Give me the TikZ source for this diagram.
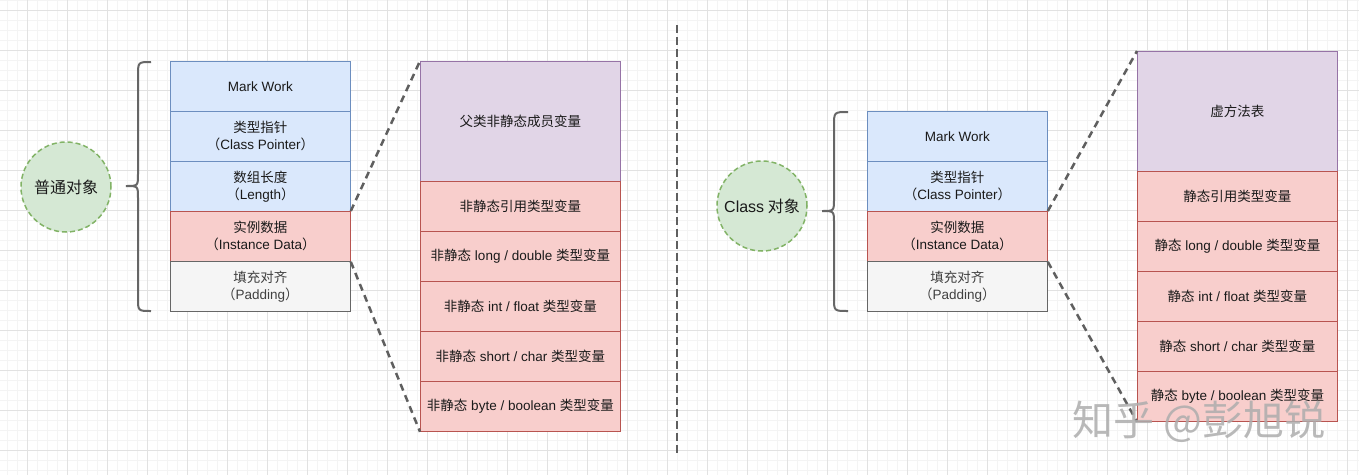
\documentclass[tikz,border=0pt]{standalone}
\usepackage{fontspec}
\setmainfont{Noto Sans CJK SC}
\newfontfamily\lat{Liberation Sans}
\definecolor{blueF}{HTML}{DAE8FC}\definecolor{blueD}{HTML}{6C8EBF}
\definecolor{redF}{HTML}{F8CECC}\definecolor{redD}{HTML}{B85450}
\definecolor{grayF}{HTML}{F5F5F5}\definecolor{grayD}{HTML}{666666}
\definecolor{purpF}{HTML}{E1D5E7}\definecolor{purpD}{HTML}{9673A6}
\definecolor{greenF}{HTML}{D5E8D4}\definecolor{greenD}{HTML}{82B366}
\definecolor{txt}{HTML}{1A1A1A}
\definecolor{gridmin}{HTML}{F4F4F4}\definecolor{gridmaj}{HTML}{E2E2E2}
\definecolor{connC}{HTML}{5F5F5F}
\begin{document}
\begin{tikzpicture}[x=1pt,y=-1pt,
  cell/.style={draw, rectangle, minimum width=180pt, minimum height=50pt, inner sep=0pt,
    anchor=north west, align=center, text=txt, font=\fontsize{13.5}{17}\selectfont, line width=0.8pt},
  wide/.style={cell, minimum width=200pt},
  bluecell/.style={fill=blueF, draw=blueD},
  redcell/.style={fill=redF, draw=redD},
  graycell/.style={fill=grayF, draw=grayD, text=black!75},
  purpcell/.style={fill=purpF, draw=purpD, minimum height=120pt},
  circ/.style={circle, draw=greenD, fill=greenF, dashed, dash pattern=on 5pt off 3pt, line width=1.5pt,
    minimum size=90pt, inner sep=0pt, text=txt, font=\fontsize{16}{19}\selectfont},
  conn/.style={draw=connC, line width=2.5pt, dash pattern=on 7pt off 5pt},
  bracestyle/.style={draw=grayD, line width=2pt},
  divider/.style={draw=connC, line width=2.5pt, dash pattern=on 8pt off 4pt}]
\useasboundingbox (0,0) rectangle (1359,475);
\fill[white] (0,0) rectangle (1359,475);
% grid
\foreach \i in {0,...,135} {\draw[gridmin, line width=0.6pt] (7+10*\i,0) -- (7+10*\i,475);}
\foreach \j in {0,...,47} {\draw[gridmin, line width=0.6pt] (0,10*\j) -- (1359,10*\j);}
\foreach \i in {0,...,33} {\draw[gridmaj, line width=0.8pt] (27+40*\i,0) -- (27+40*\i,475);}
\foreach \j in {0,...,11} {\draw[gridmaj, line width=0.8pt] (0,10+40*\j) -- (1359,10+40*\j);}

% ---------- left ----------
\node[circ] (lobj) at (66,187) {普通对象};
\draw[bracestyle] (151,62) .. controls (138,62) .. (138,76) -- (138,174)
   .. controls (138,186) .. (126,186) .. controls (138,186) .. (138,198)
   -- (138,298) .. controls (138,311) .. (151,311);

\node[cell,bluecell] (lmw) at (170,61) {{\lat Mark Work}};
\node[cell,bluecell] (lcp) at (170,111) {类型指针\\（{\lat Class Pointer}）};
\node[cell,bluecell] (llen) at (170,161) {数组长度\\（{\lat Length}）};
\node[cell,redcell] (lid) at (170,211) {实例数据\\（{\lat Instance Data}）};
\node[cell,graycell] (lpad) at (170,261) {填充对齐\\（{\lat Padding}）};

\node[wide,purpcell] (lp) at (420,61) {父类非静态成员变量};
\node[wide,redcell] (lr1) at (420,181) {非静态引用类型变量};
\node[wide,redcell] (lr2) at (420,231) {非静态{\lat\ long / double }类型变量};
\node[wide,redcell] (lr3) at (420,281) {非静态{\lat\ int / float }类型变量};
\node[wide,redcell] (lr4) at (420,331) {非静态{\lat\ short / char }类型变量};
\node[wide,redcell] (lr5) at (420,381) {非静态{\lat\ byte / boolean }类型变量};

\draw[conn] (lid.north east) -- (lp.north west);
\draw[conn] (lid.south east) -- (lr5.south west);

% ---------- divider ----------
\coordinate (dtop) at (677,25);
\coordinate (dbot) at (677,453);
\draw[divider] (dtop) -- (dbot);

% ---------- right ----------
\node[circ] (robj) at (762,206) {{\lat Class} 对象};
\draw[bracestyle] (848,112) .. controls (834,112) .. (834,126) -- (834,199)
   .. controls (834,211) .. (822,211) .. controls (834,211) .. (834,223)
   -- (834,298) .. controls (834,311) .. (848,311);

\node[cell,bluecell] (rmw) at (867,111) {{\lat Mark Work}};
\node[cell,bluecell] (rcp) at (867,161) {类型指针\\（{\lat Class Pointer}）};
\node[cell,redcell] (rid) at (867,211) {实例数据\\（{\lat Instance Data}）};
\node[cell,graycell] (rpad) at (867,261) {填充对齐\\（{\lat Padding}）};

\node[wide,purpcell] (rp) at (1137,51) {虚方法表};
\node[wide,redcell] (rr1) at (1137,171) {静态引用类型变量};
\node[wide,redcell] (rr2) at (1137,221) {静态{\lat\ long / double }类型变量};
\node[wide,redcell] (rr3) at (1137,271) {静态{\lat\ int / float }类型变量};
\node[wide,redcell] (rr4) at (1137,321) {静态{\lat\ short / char }类型变量};
\node[wide,redcell] (rr5) at (1137,371) {静态{\lat\ byte / boolean }类型变量};

\draw[conn] (rid.north east) -- (rp.north west);
\draw[conn] (rid.south east) -- (rr5.south west);

% ---------- watermark ----------
\node[text=black!32, opacity=0.85, font=\fontsize{41}{45}\selectfont, inner sep=0pt] (wm) at (1199,422) {知乎 @彭旭锐};
\end{tikzpicture}
\end{document}
